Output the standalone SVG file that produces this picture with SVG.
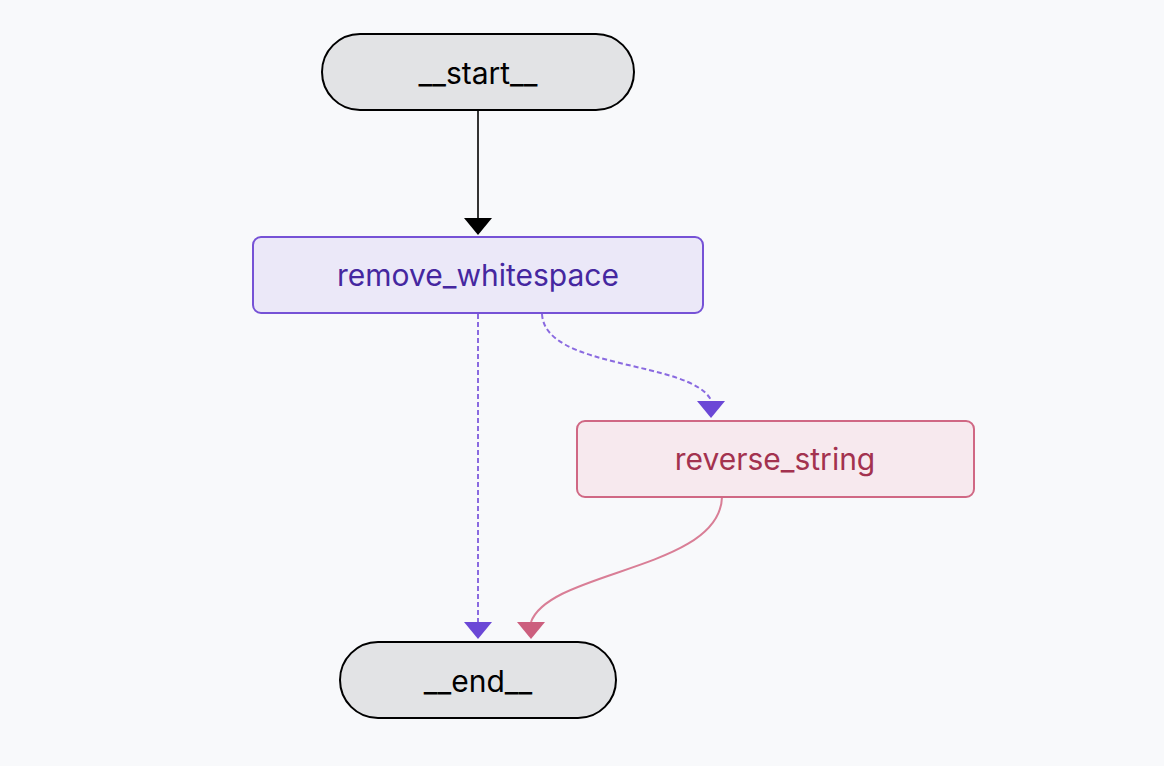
<svg xmlns="http://www.w3.org/2000/svg" width="1164" height="766" viewBox="0 0 1164 766">
<style>
text{font-family:Inter,"Liberation Sans",sans-serif;font-size:30px;text-anchor:middle;dominant-baseline:central}
.term rect{fill:#e2e3e5;stroke:#000;stroke-width:2}
.term text{fill:#000}
</style>
<defs>
<marker id="aK" markerWidth="10" markerHeight="10" refX="5" refY="9" orient="auto" markerUnits="userSpaceOnUse" viewBox="0 0 10 10"><path d="M0,0L10,0L5,9Z" fill="#000"/></marker>
</defs>
<rect width="1164" height="766" fill="#f8f9fb"/>
<g id="connectors" fill="none">
<path d="M478,110V218" stroke="#333" stroke-width="2"/>
<path d="M464,218h28l-14,17z" fill="#000"/>
<path d="M478,314V622" stroke="#8a6ae0" stroke-width="2" stroke-dasharray="5,3"/>
<path d="M464,622h28l-14,17z" fill="#6b48d6"/>
<path d="M542,314C545,370 690,360 711,400" stroke="#8a6ae0" stroke-width="2" stroke-dasharray="5,3"/>
<path d="M697,401h28l-14,17z" fill="#6b48d6"/>
<path d="M722,497C720,570 550,570 531,622" stroke="#d97e96" stroke-width="2"/>
<path d="M517,622h28l-14,17z" fill="#cc5f7e"/>
</g>
<g id="start" class="term"><rect x="322" y="34" width="312" height="76" rx="38"/><text x="478" y="73">__start__</text></g>
<g id="remove_whitespace"><rect x="253" y="237" width="450" height="76" rx="8" fill="#ebe8f8" stroke="#7652d6" stroke-width="2"/><text x="478" y="275" fill="#4527a0">remove_whitespace</text></g>
<g id="reverse_string"><rect x="577" y="421" width="397" height="76" rx="8" fill="#f7e9ee" stroke="#d06884" stroke-width="2"/><text x="775" y="459" fill="#a3324f">reverse_string</text></g>
<g id="end" class="term"><rect x="340" y="642" width="276" height="76" rx="38"/><text x="478" y="681">__end__</text></g>
</svg>
